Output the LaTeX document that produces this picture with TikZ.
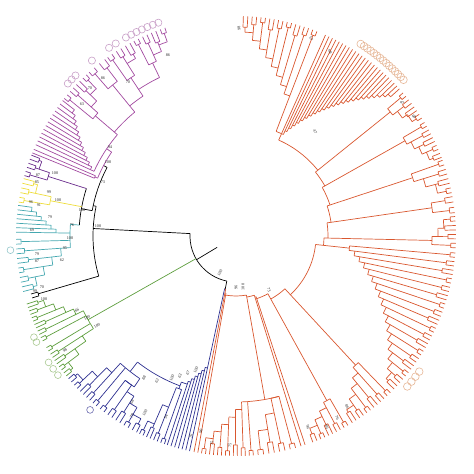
\documentclass[tikz,border=0pt]{standalone}
\usepackage{fontspec}
\setmainfont{Liberation Serif}
\definecolor{Ora}{HTML}{D9572F}
\definecolor{Blu}{HTML}{2E3191}
\definecolor{Grn}{HTML}{5E9E3E}
\definecolor{Cyn}{HTML}{45A8B0}
\definecolor{Yel}{HTML}{EEDD3A}
\definecolor{Dpu}{HTML}{6A2C8C}
\definecolor{Pur}{HTML}{A24AA0}
\definecolor{OraLight}{HTML}{E6B797}
\definecolor{PurLight}{HTML}{C9A0C8}
\definecolor{GrnLight}{HTML}{A9C991}
\definecolor{BluLight}{HTML}{6A6AAE}
\definecolor{CynLight}{HTML}{92C6CA}
\tikzset{blk/.style={draw=black},ora/.style={draw=Ora},blu/.style={draw=Blu},grn/.style={draw=Grn},cyn/.style={draw=Cyn},yel/.style={draw=Yel},dpu/.style={draw=Dpu},pur/.style={draw=Pur},ring/.style={line width=.6pt},lbl/.style={font=\fontsize{4.2}{5}\selectfont,inner sep=.2pt,text=black!85}}
\def\Rt{220}
% radial segment, arc at radius
\newcommand{\rad}[4]{\draw[#1] (#2:#3) -- (#2:#4);}
\newcommand{\arcr}[4]{\draw[#1] (#2:#4) arc[start angle=#2,end angle=#3,radius=#4pt];}
% ladder clade: style, deep angle, far angle, units, deep r, shallow r, cherries
\newcommand{\comb}[7]{%
  \pgfmathsetmacro\cs{((#3)-(#2))/((#4)-1)}%
  \pgfmathtruncatemacro\nl{#4-1}%
  \foreach \k in {0,...,\nl}{%
    \pgfmathsetmacro\ak{(#2)+(\cs)*\k}%
    \pgfmathsetmacro\rs{(#5)+((#6)-(#5))*max(\k-1,0)/max((#4)-2,1)}%
    \ifnum#7=0
      \rad{#1}{\ak}{\rs}{\Rt}
    \else
      \pgfmathsetmacro\rc{max(\rs+3,\Rt-5-3*mod(\k,3))}%
      \pgfmathsetmacro\al{(\ak)-(\cs)/4}%
      \pgfmathsetmacro\ar{(\ak)+(\cs)/4}%
      \rad{#1}{\ak}{\rs}{\rc}
      \arcr{#1}{\al}{\ar}{\rc}
      \rad{#1}{\al}{\rc}{\Rt}
      \rad{#1}{\ar}{\rc}{\Rt}
    \fi
    \ifnum\k<\nl
      \pgfmathsetmacro\rn{(#5)+((#6)-(#5))*\k/max((#4)-2,1)}%
      \pgfmathsetmacro\an{(\ak)+(\cs)}%
      \arcr{#1}{\ak}{\an}{\rn}
    \fi
  }%
}

\begin{document}
\begin{tikzpicture}[x=1pt,y=1pt,line width=.7pt,line join=round]
\useasboundingbox (-236,-238) rectangle (238,236);
% root and black backbone
\arcr{blk}{177}{258.5}{46}
\rad{blk}{211}{22}{46}
\rad{blk}{177}{46}{143}
\arcr{blk}{168}{196.3}{143}
\rad{blk}{196.3}{143}{206}
\arcr{blk}{195.8}{196.9}{206}
\rad{blk}{195.8}{206}{213}\rad{blk}{196.9}{206}{213}
\rad{blk}{168}{143}{146}
\arcr{blk}{152}{170}{146}
\rad{blk}{170}{146}{157}
\arcr{blk}{162.4}{176}{157}
\rad{blk}{152}{146}{150}
\rad{blk}{258.5}{46}{54}
\arcr{blk}{257.8}{259}{54}

% orange
\foreach \a/\r/\s in {-101/54/\Rt,-100/58/\Rt,-80/60/166,-72.8/62/\Rt,-71.7/64/\Rt,-61.1/66/188,-47.2/72/176,-6.1/80/114,-1.3/88/196,8.2/92/198,18.25/96/186,29.4/99/194,38.8/102/198,66/105/112}
  {\rad{ora}{\a}{\r}{\s}}
\foreach \a/\b/\r in {-101/-100/58,-100/-80/60,-80/-72.8/62,-72.8/-71.7/64,-71.7/-61.1/66,-61.1/-47.2/72,-47.2/-6.1/80,-6.1/-1.3/88,-1.3/8.2/92,8.2/18.25/96,18.25/29.4/99,29.4/38.8/102,38.8/66/105}
  {\arcr{ora}{\a}{\b}{\r}}
\arcr{ora}{-86}{-75}{166}
\comb{ora}{-86}{-98.5}{7}{166}{204}{1}
\comb{ora}{-75}{-83.5}{4}{166}{196}{1}
\comb{ora}{-60}{-69}{5}{188}{206}{1}
\comb{ora}{-46}{-57.5}{6}{176}{206}{1}
\comb{ora}{-5}{-43.5}{18}{114}{207}{1}
\comb{ora}{-2.5}{4.5}{4}{196}{208}{1}
\comb{ora}{6.8}{9.6}{2}{198}{198}{1}
\comb{ora}{19.5}{12}{4}{186}{206}{1}
\comb{ora}{30.5}{21.5}{5}{194}{208}{1}
\comb{ora}{40}{33}{4}{198}{210}{1}
\comb{ora}{66}{42}{25}{112}{208}{0}
\arcr{ora}{66}{69}{112}
\rad{ora}{69}{112}{150}
\comb{ora}{69}{87.5}{9}{150}{204}{1}

% blue
\rad{blu}{257.8}{54}{135}
\comb{blu}{257.8}{251.8}{7}{135}{153}{0}
\arcr{blu}{251.8}{249.5}{156}
\rad{blu}{249.5}{156}{163}
\arcr{blu}{249.5}{232}{160}
\rad{blu}{232}{160}{172}
\comb{blu}{250.5}{244.5}{4}{163}{205}{1}
\arcr{blu}{230}{236}{172}
\comb{blu}{230}{221}{5}{172}{210}{1}
\rad{blu}{236}{172}{182}
\arcr{blu}{236}{232.5}{182}
\comb{blu}{232.5}{242.5}{5}{182}{206}{1}

% green
\rad{grn}{209.5}{46}{170}
\arcr{grn}{208}{211}{170}
\comb{grn}{208}{198.5}{6}{170}{203}{1}
\comb{grn}{211}{219}{5}{170}{210}{1}

% cyan, yellow, dark purple
\rad{cyn}{176}{157}{166}
\arcr{cyn}{176}{181.5}{166}
\rad{cyn}{179}{166}{180}
\comb{cyn}{179}{172}{7}{180}{206}{0}
\comb{cyn}{181.5}{194}{6}{166}{205}{1}
\rad{yel}{169.25}{157}{189}
\comb{yel}{170.5}{165.5}{3}{189}{205}{1}
\rad{dpu}{162.4}{157}{197}
\comb{dpu}{163.5}{159}{3}{197}{208}{1}

% purple
\arcr{pur}{146}{157.3}{150}
\rad{pur}{157.3}{150}{153}
\arcr{pur}{156.8}{157.8}{153}
\rad{pur}{156.8}{153}{\Rt}\rad{pur}{157.8}{153}{\Rt}
\rad{pur}{146}{150}{156}
\arcr{pur}{139.5}{155.5}{156}
\rad{pur}{155.5}{156}{160}
\comb{pur}{155.5}{142}{13}{160}{205}{0}
\rad{pur}{139.5}{156}{160}
\foreach \a/\r/\s in {139.5/160/185,129.25/160/195,123.6/168/190,115.75/176/192}
  {\rad{pur}{\a}{\r}{\s}}
\foreach \a/\b/\r in {139.5/129.25/160,129.25/123.6/168,123.6/115.75/176}
  {\arcr{pur}{\a}{\b}{\r}}
\comb{pur}{140.7}{133.5}{4}{185}{203}{1}
\comb{pur}{131}{127.5}{2}{195}{195}{1}
\comb{pur}{125}{119.5}{3}{190}{204}{1}
\comb{pur}{117}{109.5}{4}{192}{206}{1}

% marker circles
\foreach \a in {43,...,57} \draw[ring,OraLight] (\a:229) circle[radius=3.8pt];
\foreach \a in {-36.5,-38.1,-39.7,-41.3} \draw[ring,OraLight] (\a:228) circle[radius=3.8pt];
\foreach \a in {135,136.4,137.8,129.4,124,122,110,111.5,113,114.5,116,117.5,119} \draw[ring,PurLight] (\a:227) circle[radius=3.6pt];
\foreach \a in {206.6,208,214,216,218} \draw[ring,GrnLight] (\a:226) circle[radius=3.4pt];
\draw[ring,BluLight] (230:227) circle[radius=3.4pt];
\draw[ring,CynLight] (183.6:226) circle[radius=3.4pt];

% bootstrap values
\foreach \x/\y/\t [count=\i] in {-138/10/100,-164/11/76,-166/-2/100,-171/-12/95,-174/-24/62,-186/19/79,-204/6/69,-199/-18/79,-199/-25/87,-194/-51/70,-187/44/99,-178/36/100,-181/63/100,-198/61/87,-199/54/85,-205/34/96,-197/31/91,-154/26/100,-133/54/73,-128/74/100,-126/89/94,-133/158/86,-146/148/70,-154/132/63,-108/154/70,-68/181/86,-201/-55/99,-192/-63/100}
  \node[lbl] (bl\i) at (\x,\y) {\t};
\foreach \x/\y/\t/\r [count=\i] in {-159/-74/66/30,-149/-82/100/30,-139/-90/100/30,-171/-114/98/30,-16/-37/100/60,0/-51/96/90,7/-51/100/90,-64/-142/100/65,-56/-140/63/65,-48/-137/67/65,-40/-134/100/65,-92/-142/88/60,-79/-145/62/60,-104/-166/68/60,-104/-180/79/60,-91/-177/100/60,-70/-181/94/60}
  \node[lbl,rotate=\r] (bb\i) at (\x,\y) {\t};
\foreach \x/\y/\t/\r [count=\i] in {33/-54/73/-70,79/104/47/-60,94/184/68/-60,75/197/57/-60,166/133/47/-45,178/119/68/-45,3/208/86/-80,-45/-200/76/80,-35/-195/90/80,-24/-207/75/85,-6/-209/75/85,72/-191/96/-75,91/-191/86/-70,101/-182/76/-65,111/-171/86/-60}
  \node[lbl,rotate=\r] (bo\i) at (\x,\y) {\t};
\end{tikzpicture}
\end{document}
